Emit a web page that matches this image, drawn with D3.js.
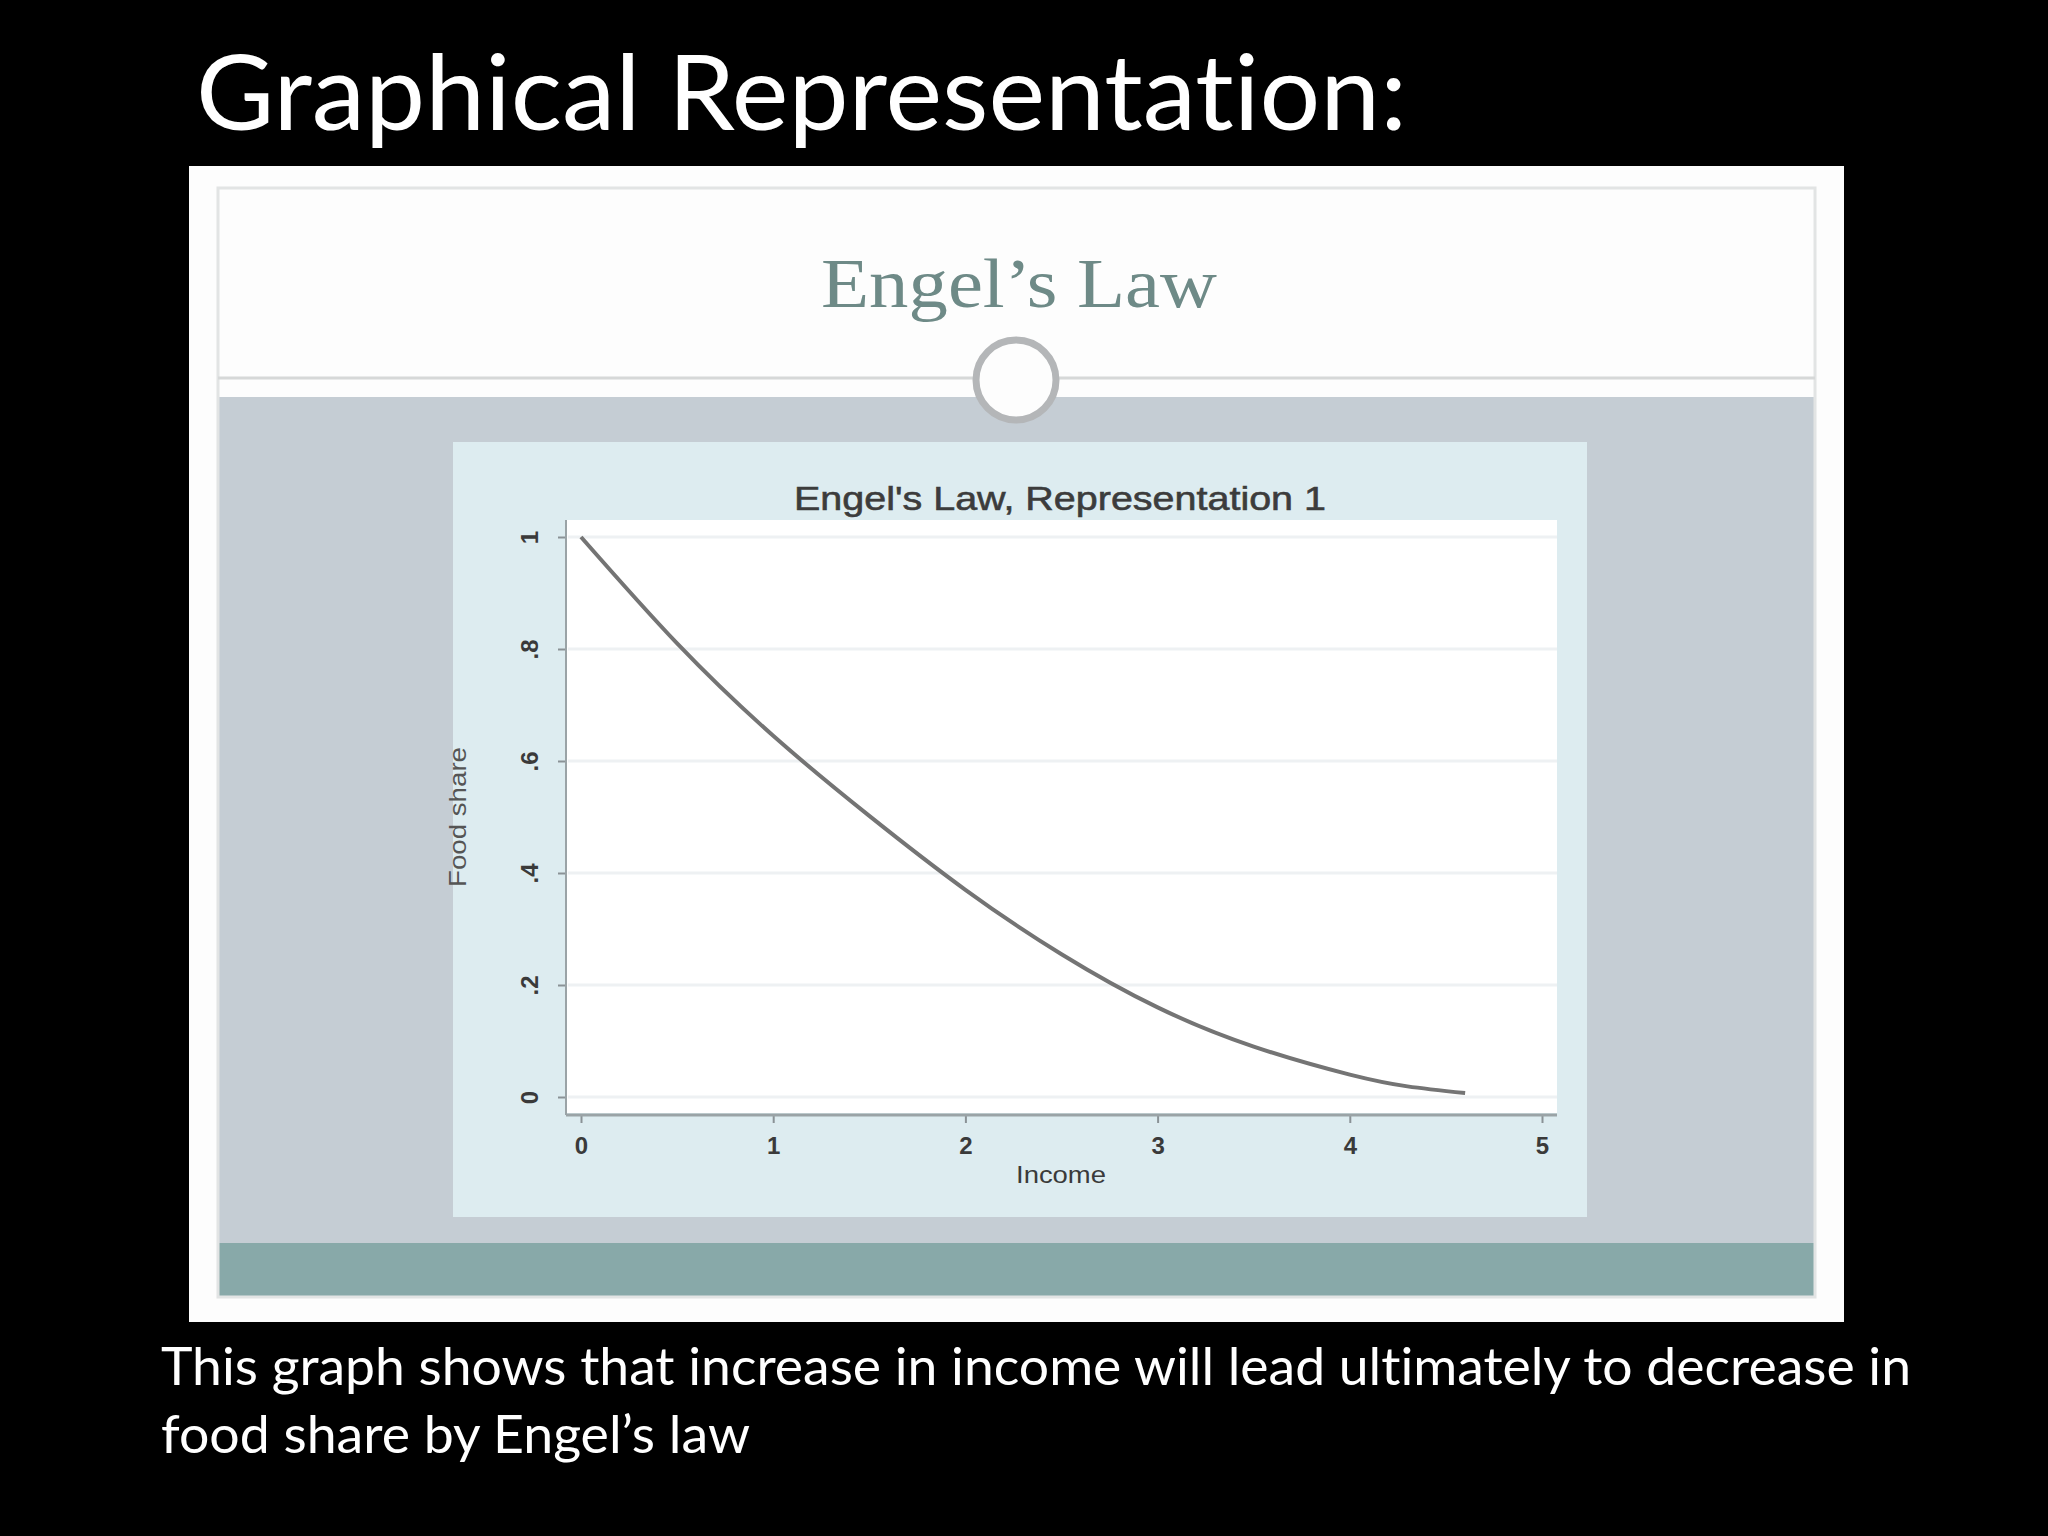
<!DOCTYPE html>
<html>
<head>
<meta charset="utf-8">
<script src="https://cdn.jsdelivr.net/npm/d3@7"></script>
<style>
  html, body { margin: 0; padding: 0; background: #000; }
  svg { display: block; }
  text { font-variant-ligatures: none; }
</style>
</head>
<body>
<div class="canvas"></div>
<script>
// Data
const incomeValues = [0, 0.5, 1, 1.5, 2, 2.5, 3, 3.5, 4, 4.3, 4.6];
const foodShareValues = [1, 0.81, 0.645, 0.502, 0.37, 0.255, 0.16, 0.09, 0.04, 0.019, 0.007];
const xTickValues = [0, 1, 2, 3, 4, 5];
const yTickValues = [0, 0.2, 0.4, 0.6, 0.8, 1];
const yTickLabels = ['0', '.2', '.4', '.6', '.8', '1'];

const slideTitle = 'Graphical Representation:';
const innerSlideTitle = 'Engel\u2019s Law';
const chartTitle = 'Engel\'s Law, Representation 1';
const xAxisTitle = 'Income';
const yAxisTitle = 'Food share';
const captionLines = [
    'This graph shows that increase in income will lead ultimately to decrease in',
    'food share by Engel\u2019s law'
];

const outerWidth = 2048;
const outerHeight = 1536;

const svg = d3.select('.canvas')
    .append('svg')
    .attr('width', outerWidth)
    .attr('height', outerHeight);

svg.append('rect')
    .attr('width', outerWidth)
    .attr('height', outerHeight)
    .attr('fill', '#000');

// Slide title
svg.append('text')
    .attr('x', 196)
    .attr('y', 130)
    .attr('fill', '#fff')
    .attr('font-family', 'Lato, "Open Sans", sans-serif')
    .attr('font-size', 104)
    .attr('textLength', 1211)
    .attr('lengthAdjust', 'spacingAndGlyphs')
    .text(slideTitle);

// Embedded slide picture
const slide = svg.append('g').attr('class', 'slide');

slide.append('rect')
    .attr('x', 189).attr('y', 166)
    .attr('width', 1655).attr('height', 1156)
    .attr('fill', '#fdfdfd');

slide.append('rect')
    .attr('x', 218).attr('y', 397)
    .attr('width', 1597).attr('height', 848)
    .attr('fill', '#c5cdd4');

slide.append('rect')
    .attr('x', 218).attr('y', 1243)
    .attr('width', 1597).attr('height', 54)
    .attr('fill', '#88a9a9');

slide.append('rect')
    .attr('x', 218).attr('y', 188)
    .attr('width', 1597).attr('height', 1109)
    .attr('fill', 'none')
    .attr('stroke', '#e2e4e4')
    .attr('stroke-width', 3);

slide.append('line')
    .attr('x1', 218).attr('x2', 1815)
    .attr('y1', 378).attr('y2', 378)
    .attr('stroke', '#d6d8d8')
    .attr('stroke-width', 3);

slide.append('circle')
    .attr('cx', 1016).attr('cy', 380)
    .attr('r', 40)
    .attr('fill', '#fdfdfd')
    .attr('stroke', '#b4b6b8')
    .attr('stroke-width', 7);

slide.append('text')
    .attr('x', 1019)
    .attr('y', 307)
    .attr('text-anchor', 'middle')
    .attr('fill', '#6e8a87')
    .attr('font-family', '"Liberation Serif", "DejaVu Serif", serif')
    .attr('font-size', 70)
    .attr('textLength', 396)
    .attr('lengthAdjust', 'spacingAndGlyphs')
    .text(innerSlideTitle);

// Chart panel
slide.append('rect')
    .attr('x', 453).attr('y', 442)
    .attr('width', 1134).attr('height', 775)
    .attr('fill', '#ddecf0');

const plotLeft = 566;
const plotRight = 1557;
const plotTop = 520;
const plotBottom = 1113;

slide.append('rect')
    .attr('x', plotLeft).attr('y', plotTop)
    .attr('width', plotRight - plotLeft).attr('height', plotBottom - plotTop)
    .attr('fill', '#fff');

slide.append('text')
    .attr('x', 1060)
    .attr('y', 510)
    .attr('text-anchor', 'middle')
    .attr('fill', '#3c3c3c')
    .attr('stroke', '#3c3c3c')
    .attr('stroke-width', 0.6)
    .attr('font-family', '"Liberation Sans", Arial, sans-serif')
    .attr('font-size', 34)
    .attr('textLength', 532)
    .attr('lengthAdjust', 'spacingAndGlyphs')
    .text(chartTitle);

// Scales
const x = d3.scaleLinear().domain([0, 5]).range([581, 1542]);
const y = d3.scaleLinear().domain([0, 1]).range([1097, 537]);

// Grid lines
slide.append('g')
    .attr('class', 'grid')
    .selectAll('line')
    .data(yTickValues)
    .enter()
    .append('line')
    .attr('x1', plotLeft + 2)
    .attr('x2', plotRight)
    .attr('y1', d => y(d))
    .attr('y2', d => y(d))
    .attr('stroke', '#eef1f3')
    .attr('stroke-width', 3);

// Axes
const xAxis = d3.axisBottom(x)
    .tickValues(xTickValues)
    .tickSize(8)
    .tickPadding(14)
    .tickFormat(d3.format('d'));

const yAxis = d3.axisLeft(y)
    .tickValues(yTickValues)
    .tickSize(8)
    .tickPadding(10)
    .tickFormat((d, i) => yTickLabels[i]);

const xAxisGroup = slide.append('g')
    .attr('class', 'x-axis')
    .attr('transform', `translate(0, ${plotBottom + 2})`)
    .call(xAxis);

const yAxisGroup = slide.append('g')
    .attr('class', 'y-axis')
    .attr('transform', `translate(${plotLeft}, 0)`)
    .call(yAxis);

[xAxisGroup, yAxisGroup].forEach(g => {
    g.select('.domain').remove();
    g.selectAll('line').attr('stroke', '#8a9296').attr('stroke-width', 2);
    g.selectAll('text')
        .attr('fill', '#3a3a3a')
        .attr('font-family', '"Liberation Sans", Arial, sans-serif')
        .attr('font-size', 24)
        .attr('font-weight', 'bold');
});

// Stata style: y labels read bottom to top
yAxisGroup.selectAll('.tick text')
    .attr('x', null)
    .attr('dy', null)
    .attr('text-anchor', 'middle')
    .attr('transform', 'translate(-28, 0) rotate(-90)');

slide.append('line')
    .attr('x1', plotLeft).attr('x2', plotRight)
    .attr('y1', plotBottom + 2).attr('y2', plotBottom + 2)
    .attr('stroke', '#9aa3a6')
    .attr('stroke-width', 3);

slide.append('line')
    .attr('x1', plotLeft).attr('x2', plotLeft)
    .attr('y1', plotTop).attr('y2', plotBottom + 2)
    .attr('stroke', '#9aa3a6')
    .attr('stroke-width', 2);

slide.append('text')
    .attr('x', 1061)
    .attr('y', 1183)
    .attr('text-anchor', 'middle')
    .attr('fill', '#3a3a3a')
    .attr('font-family', '"Liberation Sans", Arial, sans-serif')
    .attr('font-size', 24)
    .attr('textLength', 90)
    .attr('lengthAdjust', 'spacingAndGlyphs')
    .text(xAxisTitle);

slide.append('text')
    .attr('transform', 'translate(466, 817) rotate(-90)')
    .attr('text-anchor', 'middle')
    .attr('fill', '#555')
    .attr('font-family', '"Liberation Sans", Arial, sans-serif')
    .attr('font-size', 24)
    .attr('textLength', 140)
    .attr('lengthAdjust', 'spacingAndGlyphs')
    .text(yAxisTitle);

// Curve
const line = d3.line()
    .x(d => x(d[0]))
    .y(d => y(d[1]))
    .curve(d3.curveNatural);

slide.append('path')
    .datum(d3.zip(incomeValues, foodShareValues))
    .attr('fill', 'none')
    .attr('stroke', '#747474')
    .attr('stroke-width', 4)
    .attr('d', line);

// Caption
svg.append('g')
    .attr('class', 'caption')
    .selectAll('text')
    .data(captionLines)
    .enter()
    .append('text')
    .attr('x', 161)
    .attr('y', (d, i) => 1385 + i * 68)
    .attr('fill', '#fff')
    .attr('font-family', 'Lato, "Open Sans", sans-serif')
    .attr('font-size', 52)
    .attr('textLength', (d, i) => i === 0 ? 1750 : 589)
    .attr('lengthAdjust', 'spacingAndGlyphs')
    .text(d => d);
</script>
</body>
</html>
